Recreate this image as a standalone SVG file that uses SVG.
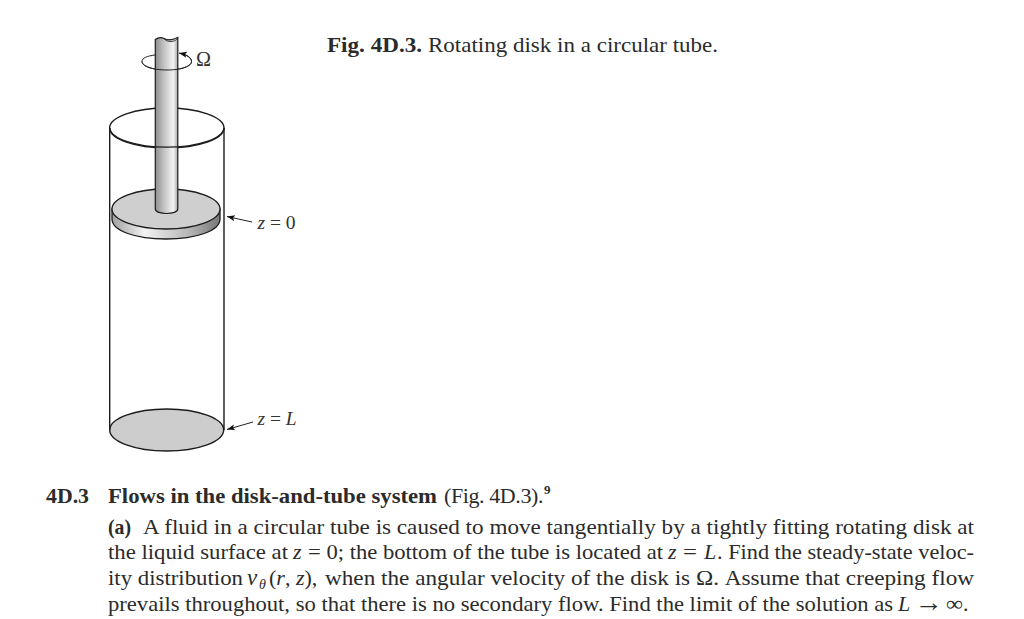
<svg xmlns="http://www.w3.org/2000/svg" width="1024" height="619" viewBox="0 0 1024 619">
<style>
text{font-family:"Liberation Serif","Times New Roman",serif;font-size:22px;fill:#2b2b2b}
.b{font-weight:bold}
.i{font-style:italic}
.l{font-size:19.500px;fill:#333}
.ln{fill:none;stroke:#1c1c1c;stroke-width:1.4}
.thin{fill:none;stroke:#222;stroke-width:1}
</style>
<defs>
<linearGradient id="shaft" x1="0" x2="1" y1="0" y2="0"><stop offset="0" stop-color="#8f8f8f"/><stop offset=".4" stop-color="#c4c4c4"/><stop offset=".8" stop-color="#f4f4f4"/><stop offset="1" stop-color="#a8a8a8"/></linearGradient>
<linearGradient id="rim" x1="0" x2="1" y1="0" y2="0"><stop offset="0" stop-color="#a0a0a0"/><stop offset=".3" stop-color="#f2f2f2"/><stop offset=".7" stop-color="#b8b8b8"/><stop offset="1" stop-color="#777"/></linearGradient>
<marker id="ah" markerWidth="9" markerHeight="7" refX="8" refY="3" orient="auto" markerUnits="userSpaceOnUse"><path d="M0 0L8 3L0 6L1.800 3Z" fill="#111"/></marker>
</defs>
<rect width="1024" height="619" fill="#fff"/>

<g id="tube-bottom"><ellipse cx="166.700" cy="430" rx="57" ry="21" fill="#cdcdcd" stroke="#1c1c1c" stroke-width="1.400"/></g>
<g id="tube">
<path class="ln" d="M109.700 128V430M224 128V430"/>
<ellipse class="ln" cx="166.800" cy="128" rx="57.200" ry="20" fill="#fff"/>
</g>
<g id="disk">
<path d="M112 209V219C112 231 136 239 166 239C196 239 220 231 220 219V209Z" fill="url(#rim)" stroke="#1c1c1c" stroke-width="1.300"/>
<ellipse cx="166" cy="209" rx="54" ry="20" fill="#cfcfcf" stroke="#1c1c1c" stroke-width="1.300"/>
</g>
<g id="rotation-back"><path class="thin" d="M155 55C147 56 142 58 142 61.500C142 66 152 70 167 70C182 70 191.500 66 191.500 61.500C191.500 58 188 55.500 184 54.500"/></g>
<g id="shaft-group">
<path d="M155.300 39.500C158 37.500 161 37 164 38.500C168 41 172 40.500 177.800 37.500V209C177.800 215 155.300 215 155.300 209Z" fill="url(#shaft)" stroke="#1c1c1c" stroke-width="1.200"/>
<path d="M164 38.500C168 41 172 40.500 177.800 37.500C176 42.500 167 43 164 38.500Z" fill="#ddd" stroke="#1c1c1c" stroke-width=".8"/>
</g>
<g id="front-arcs">
<path class="ln" d="M109.700 128A57.200 20 0 0 0 224 128"/>
<path class="thin" d="M142 61.500C142 66 152 70 167 70C182 70 191.500 66 191.500 61.500"/>
</g>
<g id="connectors">
<path class="thin" marker-end="url(#ah)" d="M191.500 61.500C191.500 58 187 54.800 179 53"/>
<path class="thin" marker-end="url(#ah)" d="M252 222L227 216.500"/>
<path class="thin" marker-end="url(#ah)" d="M253 422L227 429.500"/>
</g>

<g id="labels">
<text class="l" x="196" y="66" textLength="15" lengthAdjust="spacingAndGlyphs" style="font-size:21px">Ω</text>
<text class="l" x="257.500" y="229"><tspan class="i">z</tspan> = 0</text>
<text class="l" x="257.500" y="425"><tspan class="i">z</tspan> = <tspan class="i">L</tspan></text>
</g>

<g id="caption">
<text class="b" x="327" y="52" textLength="95" lengthAdjust="spacingAndGlyphs">Fig. 4D.3.</text>
<text x="428" y="52" textLength="290" lengthAdjust="spacingAndGlyphs">Rotating disk in a circular tube.</text>
</g>

<g id="body">
<text class="b" x="46" y="503" textLength="43" lengthAdjust="spacingAndGlyphs">4D.3</text>
<text class="b" x="108" y="503" textLength="329" lengthAdjust="spacingAndGlyphs">Flows in the disk-and-tube system</text>
<text x="444" y="503" style="letter-spacing:-.4px">(Fig. 4D.3).<tspan class="b" dx="1" dy="-9" style="font-size:13px">9</tspan></text>

<text class="b" x="108" y="534" textLength="23" lengthAdjust="spacingAndGlyphs">(a)</text>
<text x="143" y="534" textLength="831" lengthAdjust="spacingAndGlyphs">A fluid in a circular tube is caused to move tangentially by a tightly fitting rotating disk at</text>

<text x="108" y="559" textLength="180" lengthAdjust="spacingAndGlyphs">the liquid surface at</text>
<text class="i" x="293" y="559">z</text>
<text x="308" y="559" textLength="355" lengthAdjust="spacingAndGlyphs">= 0; the bottom of the tube is located at</text>
<text class="i" x="668" y="559">z</text>
<text x="683" y="559" textLength="14" lengthAdjust="spacingAndGlyphs">=</text>
<text class="i" x="704" y="559">L</text>
<text x="717" y="559" textLength="257" lengthAdjust="spacingAndGlyphs">. Find the steady-state veloc-</text>

<text x="108" y="585" textLength="135" lengthAdjust="spacingAndGlyphs">ity distribution</text>
<text class="i" x="247" y="585" style="font-size:23px">v</text>
<text class="i" x="259" y="589" style="font-size:14px">θ</text>
<text x="269" y="585">(<tspan class="i">r</tspan>, <tspan class="i">z</tspan>),</text>
<text x="325" y="585" textLength="649" lengthAdjust="spacingAndGlyphs">when the angular velocity of the disk is Ω. Assume that creeping flow</text>

<text x="108" y="611" textLength="785" lengthAdjust="spacingAndGlyphs">prevails throughout, so that there is no secondary flow. Find the limit of the solution as</text>
<text class="i" x="898" y="611">L</text>
<text x="915" y="611" textLength="28" lengthAdjust="spacingAndGlyphs" style="font-size:26px">→</text>
<text x="946" y="611" textLength="17" lengthAdjust="spacingAndGlyphs">∞</text>
<text x="963" y="611">.</text>
</g>
</svg>
